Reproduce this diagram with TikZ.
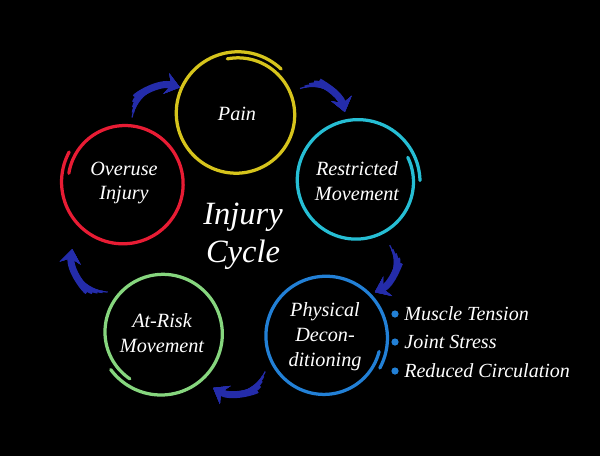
\documentclass[tikz,border=0pt]{standalone}
\usepackage{fontspec}
\setmainfont{Liberation Serif}
\usetikzlibrary{calc,arrows.meta}

\definecolor{ringyellow}{RGB}{214,196,28}
\definecolor{ringcyan}{RGB}{38,190,212}
\definecolor{ringblue}{RGB}{34,128,214}
\definecolor{ringgreen}{RGB}{134,214,126}
\definecolor{ringred}{RGB}{232,28,52}
\definecolor{arrowblue}{RGB}{36,44,170}

\tikzset{
  stage/.style={circle,inner sep=0pt,align=center,text=white,
    font=\itshape\fontsize{11.5}{14.2}\selectfont},
  cycletitle/.style={align=center,text=white,
    font=\itshape\fontsize{18.5}{21.6}\selectfont},
  bullettext/.style={anchor=base west,inner sep=0pt,text=white,
    font=\itshape\fontsize{11.4}{13}\selectfont},
  ring/.style={line width=0.65mm,line cap=round},
  cyclearrow/.style={arrowblue,-{Stealth[length=2.8mm,width=4.2mm,inset=1mm]}},
}

\begin{document}
\begin{tikzpicture}[x=0.2mm,y=0.2mm]
      \fill[black] (0,0) rectangle (600,456);
      \useasboundingbox (0,0) rectangle (600,456);

      %%%%%%%%%%%%%%%%%%%%%%%%%%%%%%%%%%%%%%%%%%%%%%%%%%%%%%%%%%%%%%%%%%%%%%%%%%%
      %%%%  Stages
      \node[stage] (pain)       at (237,342) {Pain};
      \node[stage] (restricted) at (357,275) {Restricted\\Movement};
      \node[stage] (physical)   at (325,119) {Physical\\Decon-\\ditioning};
      \node[stage] (atrisk)     at (162,123) {At-Risk\\Movement};
      \node[stage] (overuse)    at (124,273) {Overuse\\Injury};

      \node[cycletitle] (cycle) at (243,220) {Injury\\Cycle};

      %%%%%%%%%%%%%%%%%%%%%%%%%%%%%%%%%%%%%%%%%%%%%%%%%%%%%%%%%%%%%%%%%%%%%%%%%%%
      %%%%  Rings, a little more than one turn each
      \foreach \name/\col/\start/\sweep in
        {pain/ringyellow/100/415, restricted/ringcyan/25/385,
         physical/ringblue/-15/375, atrisk/ringgreen/235/380,
         overuse/ringred/170/380}
       {\draw[ring,\col,shift={(\name)}]
          plot[domain=0:1,samples=120,smooth]
          ({\start-\sweep*\x}:{56+7*\x});
       };

      %%%%%%%%%%%%%%%%%%%%%%%%%%%%%%%%%%%%%%%%%%%%%%%%%%%%%%%%%%%%%%%%%%%%%%%%%%%
      %%%%  Arrows between the rings
      \coordinate (a1) at ($(overuse)+(83:66)$);
      \coordinate (b1) at ($(pain)+(155:63)$);
      \coordinate (a2) at ($(pain)+(22:68)$);
      \coordinate (b2) at ($(restricted)+(100:70)$);
      \coordinate (a3) at ($(restricted)+(-63:72)$);
      \coordinate (b3) at ($(physical)+(42:67)$);
      \coordinate (a4) at ($(physical)+(210:69)$);
      \coordinate (b4) at ($(atrisk)+(-47:75)$);
      \coordinate (a5) at ($(atrisk)+(143:68)$);
      \coordinate (b5) at ($(overuse)+(232:84)$);

      \foreach \a/\b in {a1/b1,a2/b2,a3/b3,a4/b4,a5/b5}
      {\foreach \w/\s in {0.25/0,0.5/1,0.8/2,1.1/3,1.4/4}
       {\draw[cyclearrow,line width=\w mm,shorten <=\s mm]
          (\a) to[bend left=48] (\b);
       }};

      %%%%%%%%%%%%%%%%%%%%%%%%%%%%%%%%%%%%%%%%%%%%%%%%%%%%%%%%%%%%%%%%%%%%%%%%%%%
      %%%%  Effects of deconditioning
      \foreach \i/\txt/\y in {1/Muscle Tension/136,2/Joint Stress/108,
                             3/Reduced Circulation/79}
      {\node[bullettext] (item\i) at (404,\y) {\txt};
       \fill[ringblue] ($(item\i.base west)+(-9,6)$) circle (3.6);
      };
    \end{tikzpicture}
\end{document}
